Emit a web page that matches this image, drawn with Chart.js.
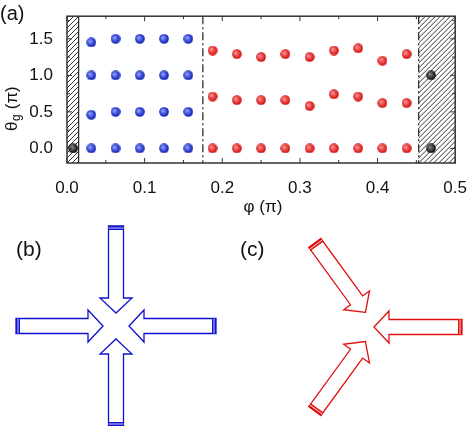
<!DOCTYPE html>
<html><head><meta charset="utf-8">
<script src="https://cdn.jsdelivr.net/npm/chart.js@4"></script>
<style>html,body{margin:0;padding:0;background:#fff}#c{display:block}</style>
</head><body>
<div style="width:474px;height:426px"><canvas id="c" width="474" height="426"></canvas></div>
<script>
const xTicks=[0,0.1,0.2,0.3,0.4,0.5];
const yTicks=[0,0.5,1.0,1.5];
const blueX=[0.03125,0.0625,0.09375,0.125,0.15625];
const blueTop=[1.45,1.5,1.5,1.5,1.5];
const blueMid=[1.0,1.0,1.0,1.0,1.0];
const blueLow=[0.46,0.5,0.5,0.5,0.5];
const blueZero=[0,0,0,0,0];
const redX=[0.1875,0.21875,0.25,0.28125,0.3125,0.34375,0.375,0.40625,0.4375];
const redTop=[1.34,1.29,1.25,1.29,1.25,1.34,1.37,1.20,1.29];
const redMid=[0.71,0.66,0.66,0.66,0.58,0.74,0.71,0.62,0.62];
const redZero=[0,0,0,0,0,0,0,0,0];
const blackX=[0.008,0.469,0.469];
const blackY=[0,0,1.0];
const hatchLeft=[0,0.015];
const hatchRight=[0.453,0.5];
const boundary=0.175;

function sphere(c1,c2){const s=document.createElement('canvas');s.width=10;s.height=10;const g=s.getContext('2d');
 const gr=g.createRadialGradient(3.5,3.5,0.5,5,5,5);gr.addColorStop(0,c1);gr.addColorStop(1,c2);
 g.fillStyle=gr;g.beginPath();g.arc(5,5,4.8,0,Math.PI*2);g.fill();return s;}
const blueS=sphere('#8fa0ff','#0010b0'), redS=sphere('#ff9090','#d00000'), blackS=sphere('#888','#000');
const pts=(xs,ys)=>xs.map((x,i)=>({x,y:ys[i]}));
const ds=(xs,ys,img)=>({data:pts(xs,ys),pointStyle:img,pointRadius:5,showLine:false});

const deco={id:'deco',
 beforeDatasetsDraw(ch){const c=ch.ctx,x=ch.scales.x,y=ch.scales.y,a=ch.chartArea;
  c.save();
  [hatchLeft,hatchRight].forEach(h=>{const x0=x.getPixelForValue(h[0]),x1=x.getPixelForValue(h[1]);
   c.save();c.beginPath();c.rect(x0,a.top,x1-x0,a.bottom-a.top);c.clip();c.strokeStyle='#333';c.lineWidth=1;
   for(let k=-200;k<200;k+=5){c.beginPath();c.moveTo(x0+k,a.bottom);c.lineTo(x0+k+200,a.bottom-200);c.stroke();}
   c.restore();});
  c.strokeStyle='#222';c.lineWidth=1.2;
  c.beginPath();let xl=x.getPixelForValue(hatchLeft[1]);c.moveTo(xl,a.top);c.lineTo(xl,a.bottom);c.stroke();
  c.setLineDash([8,3,2,3]);
  [boundary,hatchRight[0]].forEach(v=>{const p=x.getPixelForValue(v);c.beginPath();c.moveTo(p,a.top);c.lineTo(p,a.bottom);c.stroke();});
  c.setLineDash([]);c.restore();},
 afterDraw(ch){const c=ch.ctx,x=ch.scales.x,y=ch.scales.y,a=ch.chartArea;
  c.save();c.strokeStyle='#333';c.lineWidth=1.5;c.strokeRect(a.left,a.top,a.right-a.left,a.bottom-a.top);
  c.lineWidth=1;
  for(let v=0;v<=0.5001;v+=0.05){const p=x.getPixelForValue(v),L=Math.round(v*20)%2==0?5:3;
   c.beginPath();c.moveTo(p,a.bottom);c.lineTo(p,a.bottom-L);c.stroke();c.beginPath();c.moveTo(p,a.top);c.lineTo(p,a.top+L);c.stroke();}
  for(let v=0;v<=1.75;v+=0.25){const p=y.getPixelForValue(v),L=Math.round(v*4)%2==0?5:3;
   c.beginPath();c.moveTo(a.left,p);c.lineTo(a.left+L,p);c.stroke();c.beginPath();c.moveTo(a.right,p);c.lineTo(a.right-L,p);c.stroke();}
  c.fillStyle='#111';c.font='20px "Liberation Sans",Arial';c.textBaseline='middle';c.textAlign='left';
  c.fillText('(a)',0,14);
  c.font='21px "Liberation Sans",Arial';c.fillText('(b)',16,250);c.fillText('(c)',240,250);
  c.font='17px "Liberation Sans",Arial';c.textAlign='center';c.fillText('φ (π)',263,207);
  c.save();c.translate(12,97);c.rotate(-Math.PI/2);c.textAlign='left';
  c.font='17px "Liberation Sans",Arial';c.fillText('θ',-34,0);c.font='12px "Liberation Sans",Arial';c.fillText('g',-24,5);
  c.font='17px "Liberation Sans",Arial';c.fillText(' (π)',-17,0);c.restore();
  function arrow(cx,cy,ang,r0,r1,col){c.save();c.translate(cx,cy);c.rotate(ang);c.strokeStyle=col;c.lineWidth=1.3;
   const hw=7.5,hh=16,hl=15;c.beginPath();c.moveTo(r0,0);c.lineTo(r0+hl,-hh);c.lineTo(r0+hl,-hw);c.lineTo(r1,-hw);c.lineTo(r1,hw);c.lineTo(r0+hl,hw);c.lineTo(r0+hl,hh);c.closePath();c.stroke();
   c.fillStyle=col;c.fillRect(r1-4,-hw,4,2*hw);c.strokeStyle='#fff';c.lineWidth=0.8;c.beginPath();c.moveTo(r1-2,-hw);c.lineTo(r1-2,hw);c.stroke();c.restore();}
  [0,Math.PI/2,Math.PI,-Math.PI/2].forEach(t=>arrow(116,326,t,13,100,'#1010d0'));
  arrow(376,327,0,-2,86,'#e01010');arrow(376,327,-2.2,18,104,'#e01010');arrow(376,327,2.2,18,104,'#e01010');
  c.restore();}};

new Chart(document.getElementById('c'),{type:'scatter',
 data:{datasets:[ds(blueX,blueTop,blueS),ds(blueX,blueMid,blueS),ds(blueX,blueLow,blueS),ds(blueX,blueZero,blueS),
  ds(redX,redTop,redS),ds(redX,redMid,redS),ds(redX,redZero,redS),ds(blackX,blackY,blackS)]},
 options:{responsive:false,animation:false,events:[],layout:{padding:{left:0,right:14,top:0,bottom:0}},
  plugins:{legend:{display:false},tooltip:{enabled:false}},
  scales:{
   x:{type:'linear',min:0,max:0.5,afterBuildTicks(s){s.ticks=xTicks.map(v=>({value:v}));},
    afterFit(s){s.height=263;},grid:{display:false},border:{display:false},
    ticks:{padding:7,color:'#111',font:{size:17,family:'"Liberation Sans",Arial'},callback:v=>v.toFixed(1)}},
   y:{type:'linear',min:-0.2,max:1.81,afterBuildTicks(s){s.ticks=yTicks.map(v=>({value:v}));},
    afterFit(s){s.width=67;},grid:{display:false},border:{display:false},
    ticks:{padding:6,color:'#111',font:{size:17,family:'"Liberation Sans",Arial'},callback:v=>v.toFixed(1)}}}},
 plugins:[deco]});
</script></body></html>
